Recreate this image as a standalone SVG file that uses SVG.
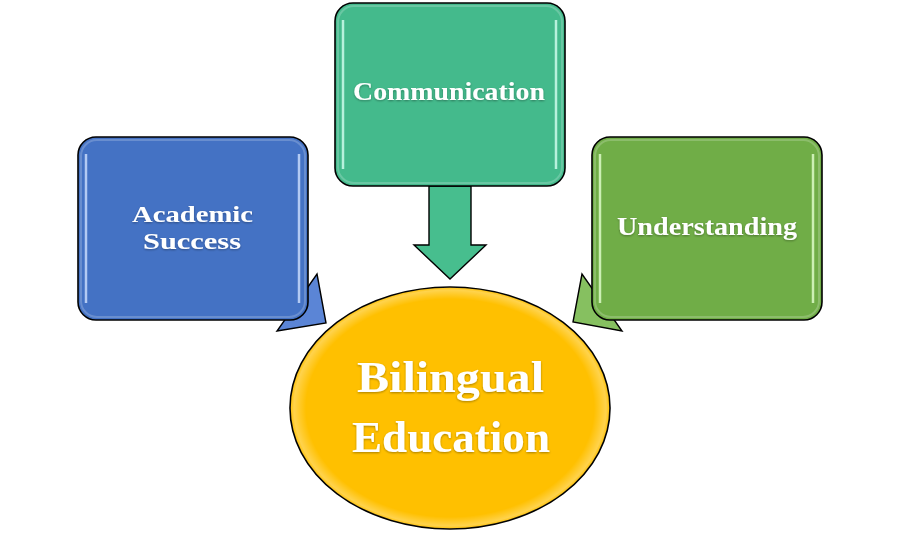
<svg xmlns="http://www.w3.org/2000/svg" width="900" height="533" viewBox="0 0 900 533">
<style>
.box{stroke:#000;stroke-width:1.6}
.hl{fill:none;stroke:#fff;stroke-opacity:0.2;stroke-width:2}
.lbl{font-family:"Liberation Serif","Times New Roman",serif;font-weight:bold;fill:#fff;text-anchor:middle}
.conn{stroke:#000;stroke-width:1.4;stroke-linejoin:miter}
</style>
<defs>
<radialGradient id="eshade" cx="0.5" cy="0.5" r="0.5">
<stop offset="0.9" stop-color="#fff" stop-opacity="0"/>
<stop offset="0.975" stop-color="#fff" stop-opacity="0.3"/>
<stop offset="1" stop-color="#fff" stop-opacity="0"/>
</radialGradient>
<filter id="ts" x="-10%" y="-20%" width="120%" height="140%">
<feGaussianBlur in="SourceAlpha" stdDeviation="0.8"/>
<feOffset dx="0.4" dy="0.6"/>
<feComponentTransfer><feFuncA type="linear" slope="0.35"/></feComponentTransfer>
<feMerge><feMergeNode/><feMergeNode in="SourceGraphic"/></feMerge>
</filter>
</defs>
<g id="connectors">
<polygon class="conn" points="317,274 326,323 277,331" fill="#5B85D6"/>
<polygon class="conn" points="582,274 573,322 622,331" fill="#86C060"/>
<polygon class="conn" points="429,186 471,186 471,245 486,245 450,279 414,245 429,245" fill="#47BE8E"/>
</g>
<g id="academic">
<rect class="box" x="78" y="137" width="230" height="183" rx="18" fill="#4472C4"/>
<line x1="86" y1="154" x2="86" y2="303" stroke="#cfe0ff" stroke-width="2.5" stroke-opacity="0.8"/>
<line x1="299" y1="154" x2="299" y2="303" stroke="#cfe0ff" stroke-width="2.5" stroke-opacity="0.8"/>
<rect class="hl" x="81" y="140" width="224" height="177" rx="16"/>
<text class="lbl" x="192.5" y="222" font-size="23" textLength="121" lengthAdjust="spacingAndGlyphs" filter="url(#ts)">Academic</text>
<text class="lbl" x="192" y="249" font-size="23" textLength="98" lengthAdjust="spacingAndGlyphs" filter="url(#ts)">Success</text>
</g>
<g id="communication">
<rect class="box" x="335" y="3" width="230" height="183" rx="18" fill="#44BA8C"/>
<line x1="343" y1="20" x2="343" y2="169" stroke="#d4fff0" stroke-width="2.5" stroke-opacity="0.8"/>
<line x1="556" y1="20" x2="556" y2="169" stroke="#d4fff0" stroke-width="2.5" stroke-opacity="0.8"/>
<rect class="hl" x="338" y="6" width="224" height="177" rx="16"/>
<text class="lbl" x="449" y="100" font-size="25" textLength="192" lengthAdjust="spacingAndGlyphs" filter="url(#ts)">Communication</text>
</g>
<g id="understanding">
<rect class="box" x="592" y="137" width="230" height="183" rx="18" fill="#70AD47"/>
<line x1="600" y1="154" x2="600" y2="303" stroke="#e4ffd0" stroke-width="2.5" stroke-opacity="0.8"/>
<line x1="813" y1="154" x2="813" y2="303" stroke="#e4ffd0" stroke-width="2.5" stroke-opacity="0.8"/>
<rect class="hl" x="595" y="140" width="224" height="177" rx="16"/>
<text class="lbl" x="707" y="235" font-size="25" textLength="180" lengthAdjust="spacingAndGlyphs" filter="url(#ts)">Understanding</text>
</g>
<g id="bilingual">
<ellipse class="box" cx="450" cy="408" rx="160" ry="121" fill="#FFC000"/>
<ellipse cx="450" cy="408" rx="160" ry="121" fill="url(#eshade)"/>
<text class="lbl" x="450.5" y="392" font-size="44" textLength="187" lengthAdjust="spacingAndGlyphs" filter="url(#ts)">Bilingual</text>
<text class="lbl" x="451" y="452" font-size="44" textLength="198" lengthAdjust="spacingAndGlyphs" filter="url(#ts)">Education</text>
</g>
</svg>
